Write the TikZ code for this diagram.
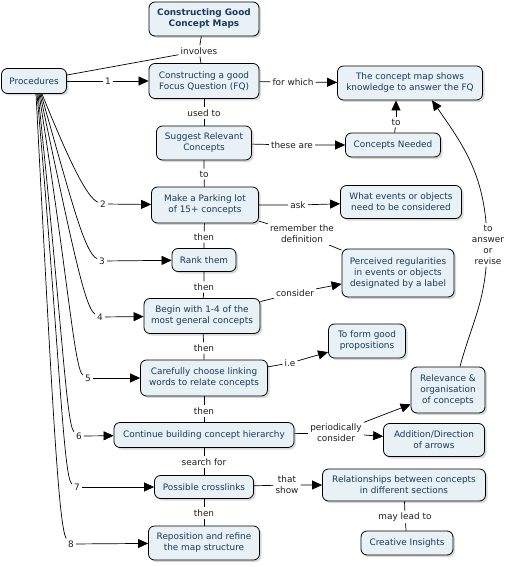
\documentclass[tikz,border=0pt]{standalone}
\usepackage{fontspec}
\usepackage{tikz}
\newfontfamily\cmapfont{DejaVu Sans}
\definecolor{conceptfill}{RGB}{232, 241, 246}
\definecolor{concepttext}{RGB}{24, 58, 98}
\definecolor{linktext}{RGB}{30, 30, 30}
\usetikzlibrary{arrows.meta, positioning, calc, shadows}

\begin{document}
\begin{tikzpicture}[
    x=1pt, y=1pt,
    concept/.style={draw=black, line width=0.8pt, rounded corners=6pt, fill=conceptfill,
                    text=concepttext, align=center, inner xsep=2pt, inner ysep=2pt,
                    font=\cmapfont\fontsize{8.9}{11}\selectfont,
                    drop shadow={shadow xshift=2pt, shadow yshift=-2pt, fill=black!30}},
    linkph/.style={text=linktext, align=center, inner sep=1.8pt,
                   font=\cmapfont\fontsize{8.9}{11}\selectfont},
    arr/.style={-{Triangle[length=10pt, width=9pt]}},
    every path/.style={line width=0.7pt}
]
    \useasboundingbox (0,0) rectangle (507,-567);

    % concepts
    \node[concept, minimum width=110, minimum height=34, font=\cmapfont\bfseries\fontsize{8.9}{11}\selectfont] (title) at (204,-19) {Constructing Good\\Concept Maps};
    \node[concept, minimum width=65, minimum height=25] (proc) at (34,-81) {Procedures};
    \node[concept, minimum width=110, minimum height=35] (fq) at (204,-81) {Constructing a good\\Focus Question (FQ)};
    \node[concept, minimum width=145, minimum height=34] (cmap) at (410,-83) {The concept map shows\\knowledge to answer the FQ};
    \node[concept, minimum width=95, minimum height=34] (suggest) at (204,-143) {Suggest Relevant\\Concepts};
    \node[concept, minimum width=95, minimum height=24] (needed) at (393,-145) {Concepts Needed};
    \node[concept, minimum width=107, minimum height=36] (parking) at (205,-205) {Make a Parking lot\\of 15+ concepts};
    \node[concept, minimum width=121, minimum height=33] (events) at (401,-202) {What events or objects\\need to be considered};
    \node[concept, minimum width=64, minimum height=23] (rank) at (204,-260) {Rank them};
    \node[concept, minimum width=112, minimum height=48] (perceived) at (398,-273) {Perceived regularities\\in events or objects\\designated by a label};
    \node[concept, minimum width=116, minimum height=35] (begin) at (202,-316) {Begin with 1-4 of the\\most general concepts};
    \node[concept, minimum width=77, minimum height=34] (toform) at (367,-341) {To form good\\propositions};
    \node[concept, minimum width=127, minimum height=36] (careful) at (204,-378) {Carefully choose linking\\words to relate concepts};
    \node[concept, minimum width=74, minimum height=46] (relevance) at (448,-390) {Relevance \&\\organisation\\of concepts};
    \node[concept, minimum width=180, minimum height=25] (cont) at (204,-435) {Continue building concept hierarchy};
    \node[concept, minimum width=101, minimum height=33] (addition) at (434,-440) {Addition/Direction\\of arrows};
    \node[concept, minimum width=99, minimum height=23] (cross) at (204,-487) {Possible crosslinks};
    \node[concept, minimum width=163, minimum height=32] (relation) at (404,-485) {Relationships between concepts\\in different sections};
    \node[concept, minimum width=111, minimum height=34] (repos) at (204,-543) {Reposition and refine\\the map structure};
    \node[concept, minimum width=92, minimum height=24] (creative) at (407,-543) {Creative Insights};

    % linking phrases
    \node[linkph] (inv) at (199,-51) {involves};
    \node[linkph] (n1) at (108,-81) {1};
    \node[linkph] (forwhich) at (293,-82) {for which};
    \node[linkph] (usedto) at (204,-113) {used to};
    \node[linkph] (toA) at (396,-122) {to};
    \node[linkph] (thesearea) at (292,-145) {these are};
    \node[linkph] (toB) at (204,-174) {to};
    \node[linkph] (n2) at (103,-204) {2};
    \node[linkph] (ask) at (298,-205) {ask};
    \node[linkph] (remember) at (302,-234) {remember the\\definition};
    \node[linkph] (then1) at (204,-237) {then};
    \node[linkph] (answer) at (488,-245) {to\\answer\\or\\revise};
    \node[linkph] (n3) at (102,-261) {3};
    \node[linkph] (then2) at (204,-287) {then};
    \node[linkph] (consider) at (295,-293) {consider};
    \node[linkph] (n4) at (100,-317) {4};
    \node[linkph] (then3) at (204,-348) {then};
    \node[linkph] (ie) at (290,-363) {i.e};
    \node[linkph] (n5) at (88,-378) {5};
    \node[linkph] (then4) at (204,-411) {then};
    \node[linkph] (period) at (336,-433) {periodically\\consider};
    \node[linkph] (n6) at (79,-436) {6};
    \node[linkph] (search) at (204,-462) {search for};
    \node[linkph] (thatshow) at (287,-485) {that\\show};
    \node[linkph] (n7) at (77,-487) {7};
    \node[linkph] (then5) at (204,-513) {then};
    \node[linkph] (maylead) at (405,-517) {may lead to};
    \node[linkph] (n8) at (71,-544) {8};

    % spine
    \draw (title) -- (inv) -- (fq);
    \draw (proc) -- (inv);
    \draw (fq) -- (usedto) -- (suggest);
    \draw (suggest) -- (toB) -- (parking);
    \draw (parking) -- (then1) -- (rank);
    \draw (rank) -- (then2) -- (begin);
    \draw (begin) -- (then3) -- (careful);
    \draw (careful) -- (then4) -- (cont);
    \draw (cont) -- (search) -- (cross);
    \draw (cross) -- (then5) -- (repos);

    % side links
    \draw[arr] (fq) -- (forwhich) -- (cmap);
    \draw[arr] (suggest) -- (thesearea) -- (needed);
    \draw (needed) -- (toA);
    \draw[arr] (toA) -- (toA |- cmap.south);
    \draw[arr] (parking) -- (ask) -- (events);
    \draw (parking) -- (remember) -- (perceived);
    \draw[arr] (begin) -- (consider) -- (perceived);
    \draw[arr] (careful) -- (ie) -- (toform);
    \draw (cont) -- (period);
    \draw[arr] (period) -- (relevance);
    \draw[arr] (period) -- (addition);
    \draw[arr] (cross) -- (thatshow) -- (relation);
    \draw (relation) -- (maylead) -- (creative);
    \draw ([xshift=12]relevance.north) to[out=75, in=-95] (answer);
    \draw[arr] (answer) to[out=95, in=-55] ([xshift=22]cmap.south);

    % numbered procedures
    \draw[arr] (proc) -- (n1) -- (fq);
    \draw ([xshift=8]proc.south) to[out=-68, in=160, out distance=70, in distance=12] (n2);
    \draw ([xshift=7]proc.south) to[out=-74, in=155, out distance=110, in distance=14] (n3);
    \draw ([xshift=6]proc.south) to[out=-78, in=150, out distance=150, in distance=12] (n4);
    \draw ([xshift=5]proc.south) to[out=-81, in=150, out distance=190, in distance=10] (n5);
    \draw ([xshift=4]proc.south) to[out=-84, in=140, out distance=230, in distance=10] (n6);
    \draw ([xshift=3]proc.south) to[out=-85, in=150, out distance=260, in distance=10] (n7);
    \draw ([xshift=2]proc.south) to[out=-87, in=130, out distance=300, in distance=12] (n8);
    \draw[arr] (n2) -- (parking);
    \draw[arr] (n3) -- (rank);
    \draw[arr] (n4) -- (begin);
    \draw[arr] (n5) -- (careful);
    \draw[arr] (n6) -- (cont);
    \draw[arr] (n7) -- (cross);
    \draw[arr] (n8) -- (repos);
\end{tikzpicture}
\end{document}
